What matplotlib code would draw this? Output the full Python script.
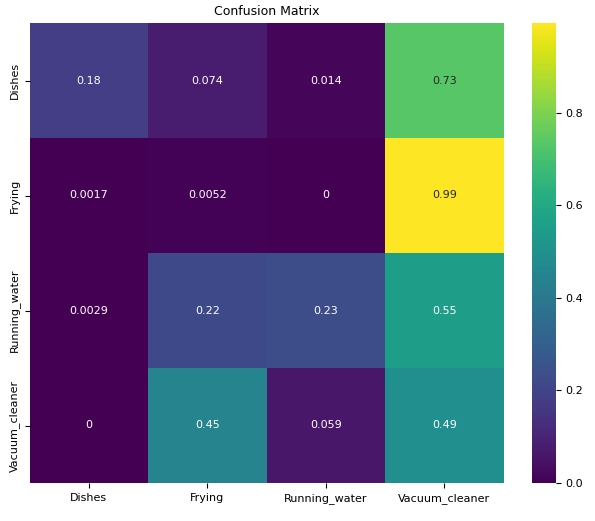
import matplotlib
matplotlib.use("Agg")
import matplotlib.pyplot as plt
import seaborn as sns
import numpy as np

labels = ["Dishes", "Frying", "Running_water", "Vacuum_cleaner"]
row_dishes = [0.18, 0.074, 0.014, 0.73]
row_frying = [0.0017, 0.0052, 0.0, 0.994]
row_running = [0.0029, 0.22, 0.23, 0.55]
row_vacuum = [0.0, 0.45, 0.059, 0.49]

cm = np.array([row_dishes, row_frying, row_running, row_vacuum])

W, H = 595, 521
fig = plt.figure(figsize=(W / 100, H / 100), dpi=100)
ax = fig.add_axes([29.5 / W, 1 - 483 / H, 474 / W, 460 / H])
cax = fig.add_axes([532 / W, 1 - 483 / H, 23.5 / W, 460 / H])

sns.heatmap(cm, annot=True, fmt=".2g", cmap="viridis", ax=ax, cbar_ax=cax,
            xticklabels=labels, yticklabels=labels,
            annot_kws={"fontsize": 8})
ax.set_title("Confusion Matrix", fontsize=9)
ax.tick_params(labelsize=8)
cax.tick_params(labelsize=8)
cax.set_yticks([0.0, 0.2, 0.4, 0.6, 0.8])
cax.set_yticklabels(["0.0", "0.2", "0.4", "0.6", "0.8"])

fig.savefig("out.png", dpi=100)
